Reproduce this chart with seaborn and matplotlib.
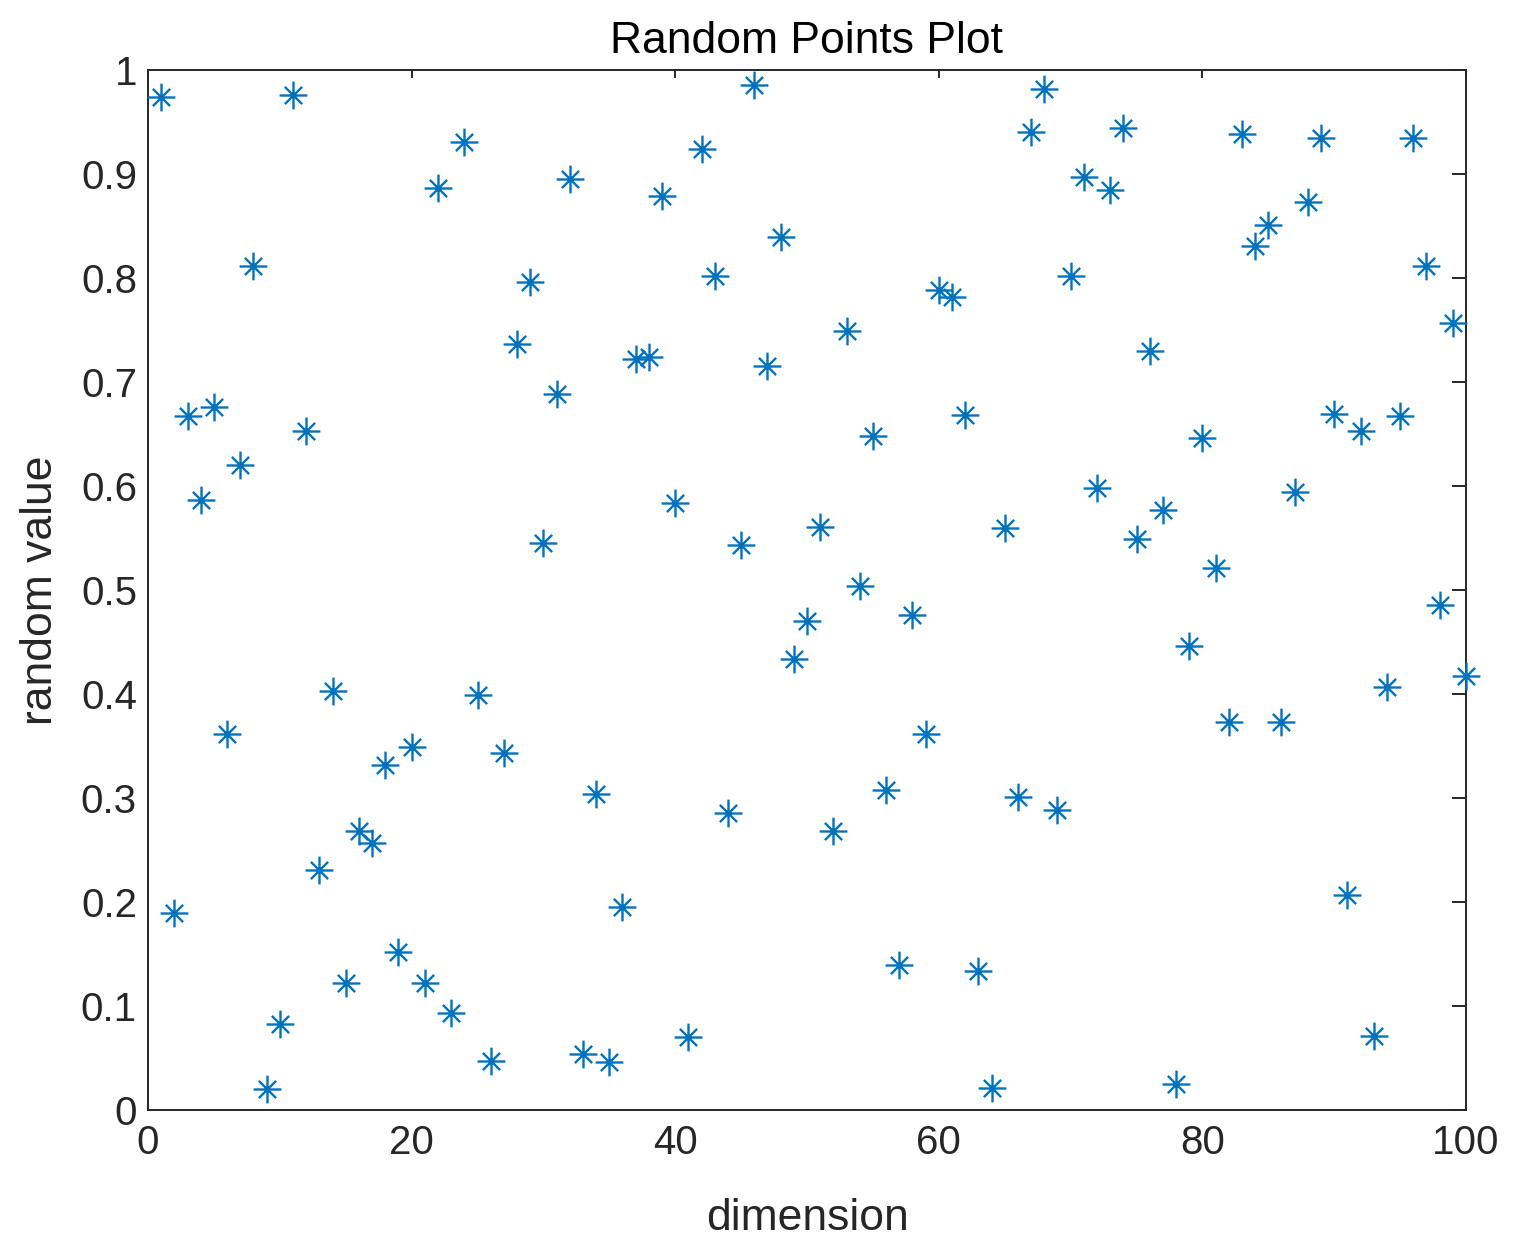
import numpy as np
import pandas as pd
import matplotlib
matplotlib.use('Agg')
import matplotlib.pyplot as plt
from matplotlib.path import Path
from matplotlib.ticker import FuncFormatter
import seaborn as sns

# values
dimension = list(range(1, 101))
random_value = [
    0.974, 0.189, 0.667, 0.587, 0.676, 0.362, 0.620, 0.812, 0.020, 0.083,
    0.976, 0.653, 0.231, 0.403, 0.122, 0.268, 0.257, 0.332, 0.152, 0.349,
    0.122, 0.887, 0.093, 0.931, 0.399, 0.047, 0.343, 0.737, 0.796, 0.545,
    0.688, 0.895, 0.054, 0.304, 0.046, 0.195, 0.722, 0.724, 0.879, 0.584,
    0.070, 0.924, 0.802, 0.286, 0.543, 0.986, 0.715, 0.839, 0.434, 0.470,
    0.561, 0.268, 0.749, 0.504, 0.648, 0.308, 0.139, 0.476, 0.362, 0.788,
    0.782, 0.668, 0.134, 0.021, 0.560, 0.301, 0.940, 0.982, 0.288, 0.802,
    0.897, 0.598, 0.885, 0.944, 0.549, 0.730, 0.577, 0.025, 0.446, 0.646,
    0.521, 0.373, 0.938, 0.831, 0.851, 0.373, 0.594, 0.873, 0.935, 0.669,
    0.207, 0.653, 0.071, 0.407, 0.667, 0.935, 0.812, 0.486, 0.757, 0.417,
]
x_ticks = [0, 20, 40, 60, 80, 100]
y_ticks = [0, 0.1, 0.2, 0.3, 0.4, 0.5, 0.6, 0.7, 0.8, 0.9, 1]

df = pd.DataFrame({'dimension': dimension, 'random value': random_value})

sns.set_style('white')
plt.rcParams['font.family'] = ['Liberation Sans', 'DejaVu Sans']
ink = '#262626'
blue = '#0072BD'

# matlab-like asterisk: a plus with a shorter x laid over it
d = 0.62
verts = [(-1, 0), (1, 0), (0, -1), (0, 1),
         (-d, -d), (d, d), (-d, d), (d, -d)]
codes = [Path.MOVETO, Path.LINETO] * 4
asterisk = Path(verts, codes)

fig = plt.figure(figsize=(15.14, 12.5), dpi=100)
ax = fig.add_axes([148 / 1514, 140 / 1250, 1318 / 1514, 1040 / 1250])

sns.scatterplot(data=df, x='dimension', y='random value', ax=ax,
                marker=asterisk, s=400, color=blue, edgecolor=blue,
                linewidth=1.7, legend=False, clip_on=False, zorder=3)

ax.set_xlim(0, 100)
ax.set_ylim(0, 1)
ax.set_xticks(x_ticks)
ax.set_yticks(y_ticks)
ax.yaxis.set_major_formatter(FuncFormatter(lambda v, p: f'{v:g}'))

for s in ax.spines.values():
    s.set_visible(True)
    s.set_color(ink)
    s.set_linewidth(1.4)
    s.set_zorder(2)

ax.tick_params(axis='both', direction='in', top=True, right=True,
               labelsize=29, colors=ink, width=1.4)
ax.tick_params(axis='x', length=6, pad=10)
ax.tick_params(axis='y', length=10, pad=8)

ax.set_xlabel('dimension', fontsize=32, color=ink, labelpad=26)
ax.set_ylabel('random value', fontsize=32, color=ink, labelpad=14)
ax.set_title('Random Points Plot', fontsize=32, color='black', pad=12)

plt.savefig('out.png', dpi=100)
